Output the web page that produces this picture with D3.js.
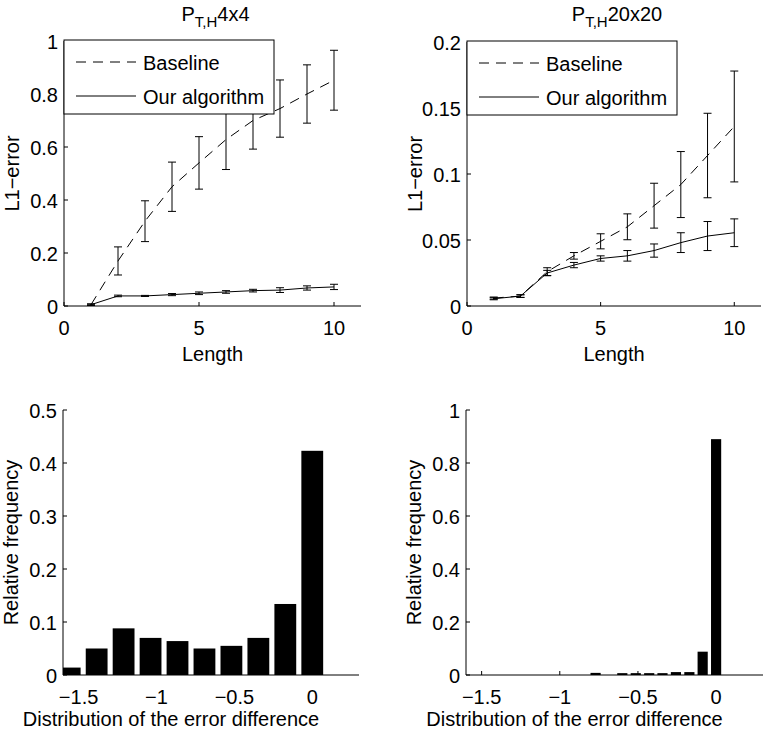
<!DOCTYPE html>
<html>
<head>
<meta charset="utf-8">
<script src="https://cdn.jsdelivr.net/npm/d3@7"></script>
<style>
body { margin: 0; background: #fff; }
text { font-family: "Liberation Sans", Arial, sans-serif; fill: #000; }
</style>
</head>
<body>
<svg id="fig" width="767" height="732"></svg>
<script>
var lengths = [1, 2, 3, 4, 5, 6, 7, 8, 9, 10];

// P_T,H 4x4
var base4 = [0.005, 0.17, 0.32, 0.45, 0.54, 0.628, 0.70, 0.745, 0.80, 0.852];
var base4Err = [0.002, 0.053, 0.077, 0.093, 0.099, 0.113, 0.108, 0.108, 0.11, 0.113];
var ours4 = [0.005, 0.038, 0.038, 0.043, 0.048, 0.053, 0.058, 0.060, 0.068, 0.072];
var ours4Err = [0.003, 0.003, 0.002, 0.004, 0.005, 0.005, 0.005, 0.009, 0.008, 0.01];

// P_T,H 20x20
var base20 = [0.006, 0.0075, 0.026, 0.038, 0.049, 0.060, 0.076, 0.092, 0.114, 0.136];
var base20Err = [0.0008, 0.001, 0.003, 0.0025, 0.0057, 0.0098, 0.017, 0.025, 0.032, 0.042];
var ours20 = [0.0055, 0.0075, 0.025, 0.031, 0.036, 0.038, 0.042, 0.048, 0.053, 0.0555];
var ours20Err = [0.0008, 0.001, 0.002, 0.002, 0.002, 0.004, 0.005, 0.0075, 0.011, 0.0105];

// histograms
var hist4Centers = [-1.557, -1.384, -1.211, -1.038, -0.865, -0.692, -0.519, -0.346, -0.173, 0];
var hist4Values = [0.014, 0.05, 0.088, 0.07, 0.064, 0.05, 0.055, 0.07, 0.134, 0.423];
var hist20Centers = [-0.771, -0.6, -0.514, -0.428, -0.343, -0.257, -0.171, -0.086, 0];
var hist20Values = [0.008, 0.007, 0.007, 0.007, 0.007, 0.011, 0.011, 0.088, 0.89];

var svg = d3.select('#fig');
var FS = 20;

function axesFrame(g, x, y, xTicks, yTicks, xFmt, yFmt) {
	var r = x.range(), b = y.range();
	g.append('line').attr('x1', r[0]).attr('x2', r[1]).attr('y1', b[0]).attr('y2', b[0])
		.attr('stroke', '#000');
	g.append('line').attr('x1', r[0]).attr('x2', r[0]).attr('y1', b[0]).attr('y2', b[1])
		.attr('stroke', '#000');
	xTicks.forEach(function(t) {
		g.append('line').attr('x1', x(t)).attr('x2', x(t)).attr('y1', b[0]).attr('y2', b[0] - 4)
			.attr('stroke', '#000');
		g.append('text').attr('x', x(t)).attr('y', b[0] + 29).attr('text-anchor', 'middle')
			.attr('font-size', FS).text(xFmt(t));
	});
	yTicks.forEach(function(t) {
		g.append('line').attr('x1', r[0]).attr('x2', r[0] + 4).attr('y1', y(t)).attr('y2', y(t))
			.attr('stroke', '#000');
		g.append('text').attr('x', r[0] - 6).attr('y', y(t) + 8).attr('text-anchor', 'end')
			.attr('font-size', FS).text(yFmt(t));
	});
}

function labels(g, x, y, xl, yl, off, shift) {
	var r = x.range(), b = y.range();
	g.append('text').attr('x', (r[0] + r[1]) / 2 + shift).attr('y', b[0] + off).attr('text-anchor', 'middle')
		.attr('font-size', FS).text(xl);
	g.append('text').attr('transform', 'translate(' + (r[0] - 45) + ',' + ((b[0] + b[1]) / 2) + ') rotate(-90)')
		.attr('text-anchor', 'middle').attr('font-size', FS).text(yl);
}

var num = function(d) { return String(d).replace('-', '\u2212'); };

function linePanel(left, right, top, bottom, ymax, yTicks, base, baseErr, ours, oursErr, titleSize) {
	var g = svg.append('g');
	var x = d3.scaleLinear().domain([0, 11]).range([left, right]);
	var y = d3.scaleLinear().domain([0, ymax]).range([bottom, top]);
	var line = d3.line().x(function(d, i) { return x(lengths[i]); }).y(function(d) { return y(d); });
	g.append('path').datum(base).attr('d', line).attr('fill', 'none').attr('stroke', '#000')
		.attr('stroke-dasharray', '10,7');
	g.append('path').datum(ours).attr('d', line).attr('fill', 'none').attr('stroke', '#000');
	[[base, baseErr], [ours, oursErr]].forEach(function(s) {
		s[0].forEach(function(v, i) {
			var cx = x(lengths[i]), lo = y(v - s[1][i]), hi = y(v + s[1][i]);
			g.append('line').attr('x1', cx).attr('x2', cx).attr('y1', lo).attr('y2', hi).attr('stroke', '#000');
			[lo, hi].forEach(function(yy) {
				g.append('line').attr('x1', cx - 4).attr('x2', cx + 4).attr('y1', yy).attr('y2', yy)
					.attr('stroke', '#000');
			});
		});
	});
	axesFrame(g, x, y, [0, 5, 10], yTicks, num, num);
	labels(g, x, y, 'Length', 'L1\u2212error', 55, 0);
	// legend
	var lx = left, ly = top - 1;
	g.append('rect').attr('x', lx).attr('y', ly).attr('width', 210).attr('height', 74)
		.attr('fill', '#fff').attr('stroke', '#000');
	g.append('line').attr('x1', lx + 12).attr('x2', lx + 72).attr('y1', ly + 22).attr('y2', ly + 22)
		.attr('stroke', '#000').attr('stroke-dasharray', '10,7');
	g.append('line').attr('x1', lx + 12).attr('x2', lx + 72).attr('y1', ly + 56).attr('y2', ly + 56)
		.attr('stroke', '#000');
	g.append('text').attr('x', lx + 79).attr('y', ly + 30).attr('font-size', FS).text('Baseline');
	g.append('text').attr('x', lx + 79).attr('y', ly + 64).attr('font-size', FS).text('Our algorithm');
	// title
	var t = g.append('text').attr('x', (left + right) / 2 + 3).attr('y', 21).attr('text-anchor', 'middle')
		.attr('font-size', FS);
	t.append('tspan').text('P');
	t.append('tspan').attr('dy', 6).attr('font-size', 15).text('T,H');
	t.append('tspan').attr('dy', -6).text(titleSize);
}

function histPanel(left, right, top, bottom, ymax, yTicks, centers, values, binW) {
	var g = svg.append('g');
	var x = d3.scaleLinear().domain([-1.6, 0.3]).range([left, right]);
	var y = d3.scaleLinear().domain([0, ymax]).range([bottom, top]);
	centers.forEach(function(c, i) {
		var x0 = Math.max(x(c - binW / 2), left);
		var x1 = x(c + binW / 2);
		g.append('rect').attr('x', x0).attr('y', y(values[i])).attr('width', x1 - x0)
			.attr('height', bottom - y(values[i])).attr('fill', '#000');
	});
	axesFrame(g, x, y, [-1.5, -1, -0.5, 0], yTicks, num, num);
	labels(g, x, y, 'Distribution of the error difference', 'Relative frequency', 51, -40);
}

linePanel(64, 361, 41, 306, 1, [0, 0.2, 0.4, 0.6, 0.8, 1], base4, base4Err, ours4, ours4Err, '4x4');
linePanel(467, 761, 42, 306, 0.2, [0, 0.05, 0.1, 0.15, 0.2], base20, base20Err, ours20, ours20Err, '20x20');
histPanel(63, 359, 410, 675, 0.5, [0, 0.1, 0.2, 0.3, 0.4, 0.5], hist4Centers, hist4Values, 0.14);
histPanel(466, 763, 410, 675, 1, [0, 0.2, 0.4, 0.6, 0.8, 1], hist20Centers, hist20Values, 0.065);
</script>
</body>
</html>
